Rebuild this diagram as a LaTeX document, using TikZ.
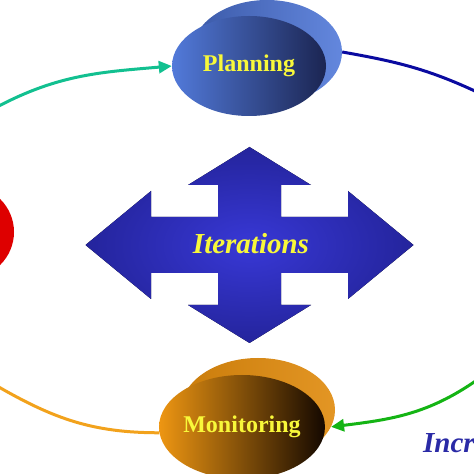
\documentclass[tikz,border=0pt]{standalone}
\usepackage{fontspec}
\setmainfont{Liberation Serif}
\usetikzlibrary{shapes.geometric,arrows.meta}

\definecolor{planlight}{HTML}{527ADA}
\definecolor{plandark}{HTML}{1B2552}
\definecolor{planrim}{HTML}{4A70D2}
\definecolor{monlight}{HTML}{EE9612}
\definecolor{mondark}{HTML}{140800}
\definecolor{monrim}{HTML}{E08A0C}
\definecolor{iterblue}{HTML}{3838D6}
\definecolor{iterdark}{HTML}{24249C}
\definecolor{textyellow}{HTML}{F8F83A}
\definecolor{incrblue}{HTML}{2A2AA6}
\definecolor{tealline}{HTML}{12C090}
\definecolor{orangeline}{HTML}{F2A21C}
\definecolor{blueline}{HTML}{0A0AA0}
\definecolor{greenline}{HTML}{14B414}
\definecolor{ballred}{HTML}{DE0000}

\begin{document}
\begin{tikzpicture}[x=1pt,y=1pt,
  >={Triangle[length=13pt,width=12pt]},
  phase/.style={ellipse, inner sep=0pt, text=textyellow,
    font=\fontsize{24}{28}\selectfont\bfseries},
  rim/.style={ellipse, inner sep=0pt},
  loopline/.style={line width=3pt}]

% frame
\useasboundingbox (0,0) rectangle (474,474);
\clip (0,0) rectangle (474,474);

% red ball (left)
\node[ellipse, fill=ballred, minimum width=92pt,
  minimum height=92pt] (ball) at (-32,242) {};

% Planning
\node[rim, left color=planrim!80!black, right color=planlight!90!white,
  minimum width=150pt, minimum height=104pt] (planback) at (267,422) {};
\node[phase, left color=planlight, right color=plandark,
  minimum width=154pt, minimum height=100pt] (plan) at (249,408) {Planning};

% Monitoring
\node[rim, left color=monrim!90!black, right color=monrim!90!white,
  minimum width=154pt, minimum height=104pt] (monback) at (258,64) {};
\node[phase, left color=monlight, right color=mondark,
  minimum width=156pt, minimum height=104pt] (mon) at (242,47) {Monitoring};

% Iterations (cross arrow)
\fill[shading=radial, inner color=iterblue, outer color=iterdark]
  (249.5,327) -- (311,289) -- (281,289) -- (281,257) -- (348,257)
  -- (348,283) -- (413.5,229) -- (348,175) -- (348,201) -- (281,201)
  -- (281,169) -- (311,169) -- (249.5,131) -- (188,169) -- (218,169)
  -- (218,201) -- (151,201) -- (151,175) -- (85.5,229) -- (151,283)
  -- (151,257) -- (218,257) -- (218,289) -- (188,289) -- cycle;
\node[text=textyellow, font=\fontsize{29}{34}\selectfont\bfseries\itshape]
  (iter) at (251,230) {Iterations};

% loop ends at the frame
\coordinate (tealin) at (-3,367);
\coordinate (orangein) at (-3,88);
\coordinate (blueout) at (477,382);
\coordinate (greenin) at (477,94);

% loop
\draw[loopline, tealline, ->] (tealin) to[out=28,in=185] (plan.west);
\draw[loopline, blueline] (planback.east) to[out=-10,in=155] (blueout);
\draw[loopline, greenline, ->] (greenin) to[out=215,in=7] (monback.-13);
\draw[loopline, orangeline] (orangein) to[out=-30,in=180] (mon.184);

% Incr...
\node[anchor=base west, inner sep=0pt, text=incrblue,
  font=\fontsize{29}{34}\selectfont\bfseries\itshape] (incr) at (423,21) {Incr};

\end{tikzpicture}
\end{document}
